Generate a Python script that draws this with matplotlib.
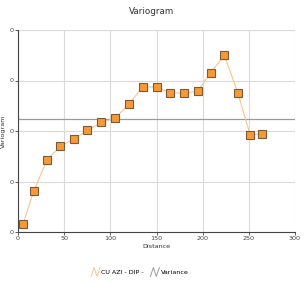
import numpy as np
import matplotlib
matplotlib.use("Agg")
import matplotlib.pyplot as plt
from matplotlib.lines import Line2D
from matplotlib.legend_handler import HandlerBase

# %% Data

distance = [5.5, 17, 31.5, 46, 60.5, 75, 90, 105, 120, 135, 150, 165,
            180, 194.5, 208.5, 223.5, 238, 251.5, 264]
gamma = [0.016, 0.081, 0.143, 0.170, 0.184, 0.201, 0.217, 0.225, 0.253,
         0.287, 0.287, 0.275, 0.275, 0.279, 0.315, 0.350, 0.276, 0.192, 0.195]
variance = 0.223
series_name = "CU AZI - DIP -"
x_ticks = [0, 50, 100, 150, 200, 250, 300]
y_ticks = [0, 0.1, 0.2, 0.3, 0.4]


# %% Legend handler drawing the small zigzag icon

class ZigZag(HandlerBase):
    def create_artists(self, legend, orig, xd, yd, w, h, fontsize, trans):
        xs = np.array([0.0, 0.33, 0.66, 1.0]) * w - xd
        ys = np.array([-0.6, 1.4, -0.6, 1.4]) * h - yd
        ln = Line2D(xs, ys, color=orig.get_color(), lw=0.7, transform=trans)
        return [ln]


# %% Figure

fig = plt.figure(figsize=(3.04, 2.85), dpi=100)
ax = fig.add_axes([18 / 304, 1 - 232 / 285, 277 / 304, 202 / 285])

ax.axhline(variance, color="#9a9a9a", lw=0.9, zorder=2)
ax.plot(distance, gamma, color="#f8c48e", lw=0.8, marker="s", ms=5.2,
        mfc="#f79a35", mec="#7a5a3a", mew=0.8, zorder=3)

ax.set_xlim(0, 300)
ax.set_ylim(0, 0.4)
ax.set_xticks(x_ticks)
ax.set_yticks(y_ticks)
ax.set_yticklabels(["0" for _ in y_ticks])
ax.grid(True, color="#dadada", lw=0.8)
ax.set_axisbelow(True)

for s in ["top", "right"]:
    ax.spines[s].set_visible(False)
for s in ["left", "bottom"]:
    ax.spines[s].set_color("#444444")
    ax.spines[s].set_linewidth(0.8)

ax.tick_params(labelsize=4.6, colors="#444444", length=2, width=0.6, pad=1)
ax.set_xlabel("Distance", fontsize=4.6, color="#333333", labelpad=2)
ax.set_ylabel("Variogram", fontsize=4.6, color="#333333", labelpad=3)
fig.text(0.5, 1 - 12 / 285, "Variogram", ha="center", va="center",
         fontsize=6.3, color="#333333")

handles = [Line2D([], [], color="#f8c48e"), Line2D([], [], color="#9a9a9a")]
fig.legend(handles, [series_name, "Variance"], loc="center",
           bbox_to_anchor=(0.46, 1 - 272 / 285), ncol=2, frameon=False,
           fontsize=4.6, handler_map={Line2D: ZigZag()},
           handlelength=1.4, handletextpad=0.2, columnspacing=1.0)

fig.savefig("out.png", dpi=100)
